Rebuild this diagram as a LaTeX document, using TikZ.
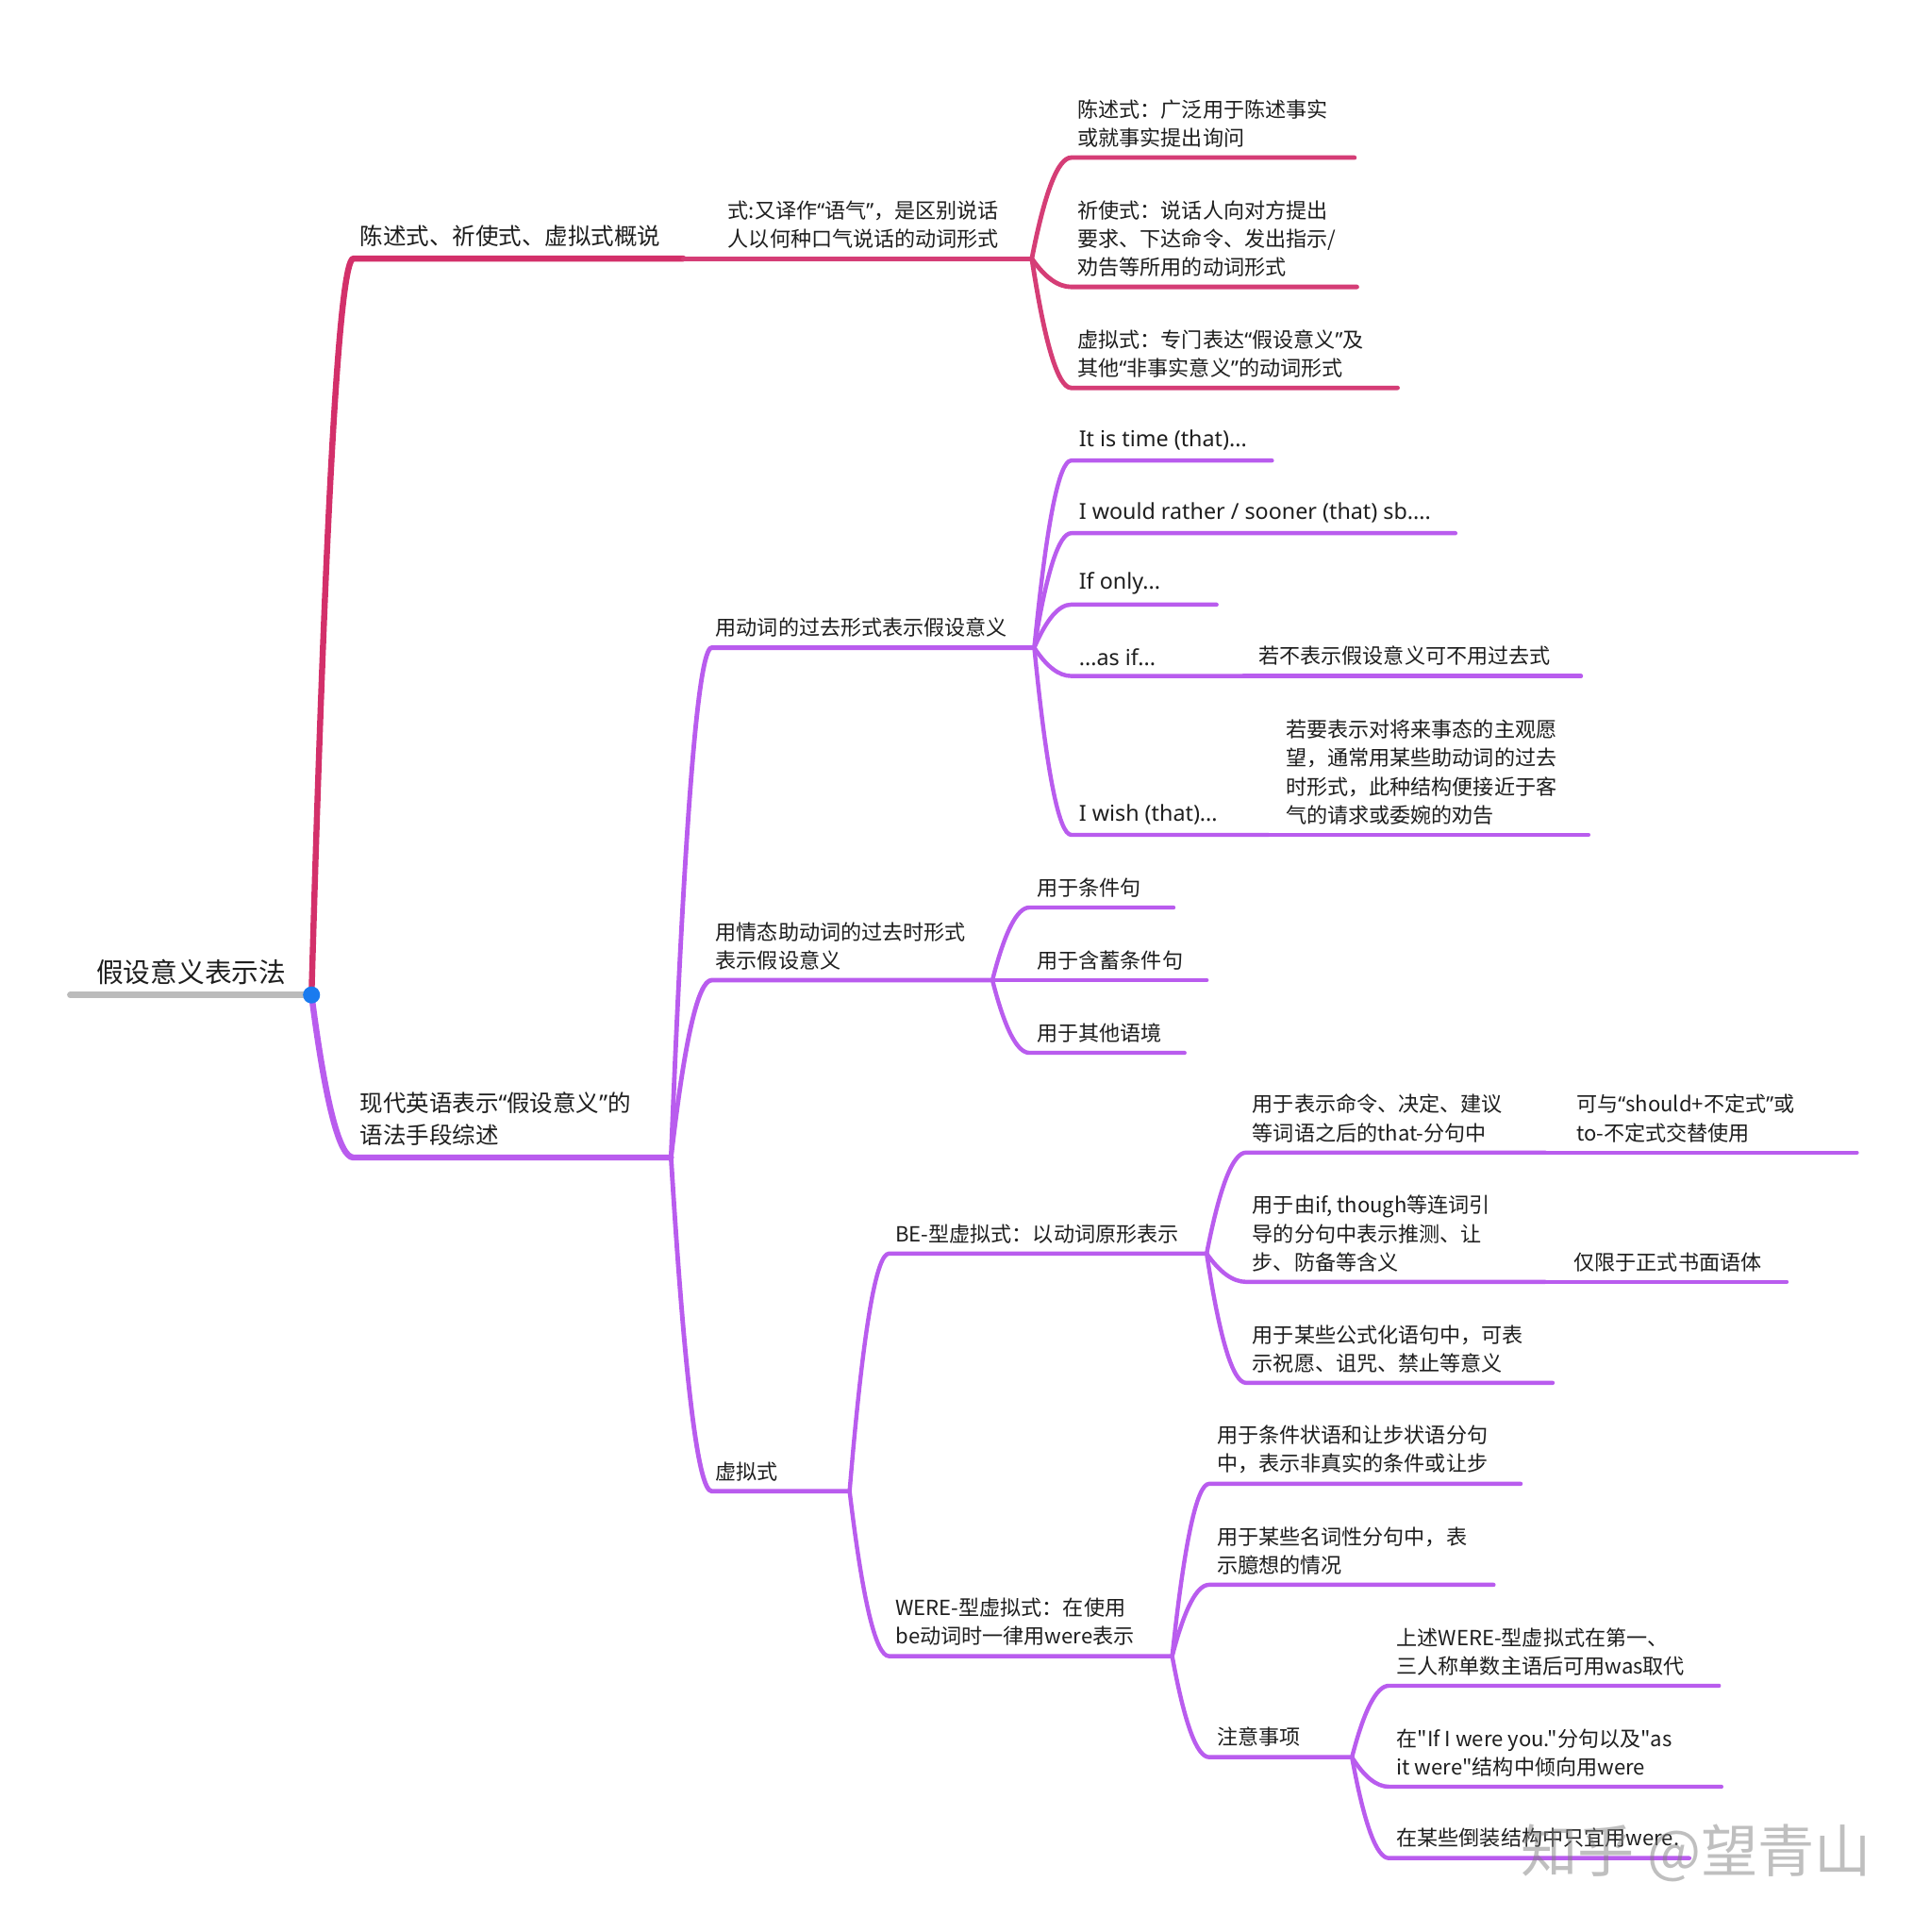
\documentclass[tikz,border=0pt]{standalone}
\usepackage{fontspec}
\setmainfont{Noto Sans CJK SC}[Ligatures=TeXOff]
\newfontfamily\qf{Noto Sans}[Ligatures=TeXOff]
\newfontfamily\latf{Noto Sans}[Ligatures=TeXOff]
\usetikzlibrary{calc}
\definecolor{crimA}{HTML}{D3306A}
\definecolor{crimB}{HTML}{D53D76}
\definecolor{purp}{HTML}{B95CEE}
\definecolor{rootgray}{HTML}{BBBBBB}
\definecolor{dotblue}{HTML}{1A7BEF}
\definecolor{txt}{HTML}{1E1E1E}
\newcommand{\myfs}[2]{\fontsize{#1}{#2}\selectfont}
\newcommand{\oqt}{{\qf “}}
\newcommand{\cqt}{{\qf ”}}
\newcommand{\conn}[4][]{\draw[#1] let \p1=(#2), \p2=(#3) in (\p1) .. controls ({\x1+(\x2-\x1)/3},{\y1+2*(\y2-\y1)/3}) and ({\x2-(\x2-\x1)/3},{\y2}) .. (\p2) -- (#4);}
\tikzset{
  lab/.style={anchor=south west, inner sep=0pt, align=left, text=txt, font=\myfs{11}{15}},
  latlab/.style={lab, font=\latf\myfs{11.6}{15}},
  lablone/.style={lab, font=\myfs{12.2}{17}},
  labroot/.style={lab, font=\myfs{14.3}{18}},
  lnbase/.style={line cap=round, line join=round},
  rA/.style={lnbase, draw=crimA, line width=3.2pt},
  rB/.style={lnbase, draw=crimB, line width=2.4pt},
  pA/.style={lnbase, draw=purp, line width=3.2pt},
  pB/.style={lnbase, draw=purp, line width=2.4pt},
  pC/.style={lnbase, draw=purp, line width=2.2pt},
  wm/.style={anchor=west, inner sep=0pt, text=gray, opacity=0.5, font=\myfs{30}{32}}
}
\begin{document}
\begin{tikzpicture}[x=0.65pt,y=-0.65pt]
\useasboundingbox[fill=white] (0,0) rectangle (1567,1569);
% ---------- coordinates ----------
\coordinate (R-s) at (57,808);   \coordinate (R-e) at (253,808);
\coordinate (A-s) at (287,210);  \coordinate (A-e) at (555,210);
\coordinate (A1-s) at (555,210); \coordinate (A1-e) at (838,210);
\coordinate (A11-s) at (870,128); \coordinate (A11-e) at (1100,128);
\coordinate (A12-s) at (870,233); \coordinate (A12-e) at (1102,233);
\coordinate (A13-s) at (870,315); \coordinate (A13-e) at (1135,315);
\coordinate (B-s) at (287,940);  \coordinate (B-e) at (545,940);
\coordinate (B1-s) at (578,526); \coordinate (B1-e) at (840,526);
\coordinate (B11-s) at (870,374); \coordinate (B11-e) at (1033,374);
\coordinate (B12-s) at (870,433); \coordinate (B12-e) at (1182,433);
\coordinate (B13-s) at (870,491); \coordinate (B13-e) at (988,491);
\coordinate (B14-s) at (870,549); \coordinate (B14-e) at (1010,549);
\coordinate (B141-e) at (1284,549);
\coordinate (B15-s) at (870,678); \coordinate (B15-e) at (1030,678);
\coordinate (B151-e) at (1290,678);
\coordinate (B2-s) at (578,796); \coordinate (B2-e) at (806,796);
\coordinate (B21-s) at (836,737); \coordinate (B21-e) at (953,737);
\coordinate (B22-s) at (836,796); \coordinate (B22-e) at (980,796);
\coordinate (B23-s) at (836,855); \coordinate (B23-e) at (962,855);
\coordinate (B3-s) at (578,1211); \coordinate (B3-e) at (690,1211);
\coordinate (B31-s) at (722,1018); \coordinate (B31-e) at (980,1018);
\coordinate (B311-s) at (1012,936); \coordinate (B311-e) at (1255,936);
\coordinate (B3111-e) at (1508,936);
\coordinate (B312-s) at (1012,1041); \coordinate (B312-e) at (1255,1041);
\coordinate (B3121-e) at (1451,1041);
\coordinate (B313-s) at (1012,1123); \coordinate (B313-e) at (1261,1123);
\coordinate (B32-s) at (722,1345); \coordinate (B32-e) at (952,1345);
\coordinate (B321-s) at (982,1205); \coordinate (B321-e) at (1235,1205);
\coordinate (B322-s) at (982,1287); \coordinate (B322-e) at (1213,1287);
\coordinate (B323-s) at (982,1427); \coordinate (B323-e) at (1098,1427);
\coordinate (B3231-s) at (1128,1369); \coordinate (B3231-e) at (1396,1369);
\coordinate (B3232-s) at (1128,1451); \coordinate (B3232-e) at (1398,1451);
\coordinate (B3233-s) at (1128,1509); \coordinate (B3233-e) at (1372,1509);
% ---------- connectors ----------
\draw[lnbase, draw=rootgray, line width=3.3pt] (R-s) -- (R-e);
% crimson branch
\conn[rA]{R-e}{A-s}{A-e}
\draw[rB] (A1-s) -- (A1-e);
\conn[rB]{A1-e}{A11-s}{A11-e}
\conn[rB]{A1-e}{A12-s}{A12-e}
\conn[rB]{A1-e}{A13-s}{A13-e}
% purple branch
\conn[pA]{R-e}{B-s}{B-e}
\conn[pB]{B-e}{B1-s}{B1-e}
\conn[pC]{B1-e}{B11-s}{B11-e}
\conn[pC]{B1-e}{B12-s}{B12-e}
\conn[pC]{B1-e}{B13-s}{B13-e}
\conn[pC]{B1-e}{B14-s}{B14-e}
\draw[pC] (B14-e) -- (B141-e);
\conn[pC]{B1-e}{B15-s}{B15-e}
\draw[pC] (B15-e) -- (B151-e);
\conn[pB]{B-e}{B2-s}{B2-e}
\conn[pC]{B2-e}{B21-s}{B21-e}
\conn[pC]{B2-e}{B22-s}{B22-e}
\conn[pC]{B2-e}{B23-s}{B23-e}
\conn[pB]{B-e}{B3-s}{B3-e}
\conn[pC]{B3-e}{B31-s}{B31-e}
\conn[pC]{B31-e}{B311-s}{B311-e}
\draw[pC] (B311-e) -- (B3111-e);
\conn[pC]{B31-e}{B312-s}{B312-e}
\draw[pC] (B312-e) -- (B3121-e);
\conn[pC]{B31-e}{B313-s}{B313-e}
\conn[pC]{B3-e}{B32-s}{B32-e}
\conn[pC]{B32-e}{B321-s}{B321-e}
\conn[pC]{B32-e}{B322-s}{B322-e}
\conn[pC]{B32-e}{B323-s}{B323-e}
\conn[pC]{B323-e}{B3231-s}{B3231-e}
\conn[pC]{B323-e}{B3232-s}{B3232-e}
\conn[pC]{B323-e}{B3233-s}{B3233-e}
\node[circle, fill=dotblue, inner sep=0pt, minimum size=9pt] (dot) at (R-e) {};
% ---------- texts ----------
\node[labroot] (R) at ([shift={(21,-8)}]R-s) {假设意义表示法};
\node[lablone] (A) at ([shift={(5,-9)}]A-s) {陈述式、祈使式、虚拟式概说};
\node[lab] (A1) at ([shift={(36,-8)}]A1-s) {式:又译作\oqt 语气\cqt，是区别说话\\人以何种口气说话的动词形式};
\node[lab] (A11) at ([shift={(5,-8)}]A11-s) {陈述式：广泛用于陈述事实\\或就事实提出询问};
\node[lab] (A12) at ([shift={(5,-8)}]A12-s) {祈使式：说话人向对方提出\\要求、下达命令、发出指示/\\劝告等所用的动词形式};
\node[lab] (A13) at ([shift={(5,-8)}]A13-s) {虚拟式：专门表达\oqt 假设意义\cqt 及\\其他\oqt 非事实意义\cqt 的动词形式};
\node[lablone] (B) at ([shift={(5,-9)}]B-s) {现代英语表示\oqt 假设意义\cqt 的\\语法手段综述};
\node[lab] (B1) at ([shift={(3,-8)}]B1-s) {用动词的过去形式表示假设意义};
\node[latlab] (B11) at ([shift={(6,-8)}]B11-s) {It is time (that)...};
\node[latlab] (B12) at ([shift={(6,-8)}]B12-s) {I would rather / sooner (that) sb....};
\node[latlab] (B13) at ([shift={(6,-8)}]B13-s) {If only...};
\node[latlab] (B14) at ([shift={(6,-8)}]B14-s) {...as if...};
\node[lab] (B141) at ([shift={(12,-8)}]B14-e) {若不表示假设意义可不用过去式};
\node[latlab] (B15) at ([shift={(6,-8)}]B15-s) {I wish (that)...};
\node[lab] (B151) at ([shift={(14,-8)}]B15-e) {若要表示对将来事态的主观愿\\望，通常用某些助动词的过去\\时形式，此种结构便接近于客\\气的请求或委婉的劝告};
\node[lab] (B2) at ([shift={(3,-8)}]B2-s) {用情态助动词的过去时形式\\表示假设意义};
\node[lab] (B21) at ([shift={(6,-8)}]B21-s) {用于条件句};
\node[lab] (B22) at ([shift={(6,-8)}]B22-s) {用于含蓄条件句};
\node[lab] (B23) at ([shift={(6,-8)}]B23-s) {用于其他语境};
\node[lab] (B3) at ([shift={(3,-8)}]B3-s) {虚拟式};
\node[lab] (B31) at ([shift={(5,-8)}]B31-s) {BE-型虚拟式：以动词原形表示};
\node[lab] (B311) at ([shift={(5,-8)}]B311-s) {用于表示命令、决定、建议\\等词语之后的that-分句中};
\node[lab] (B3111) at ([shift={(25,-8)}]B311-e) {可与\oqt should+不定式\cqt 或\\to-不定式交替使用};
\node[lab] (B312) at ([shift={(5,-8)}]B312-s) {用于由if, though等连词引\\导的分句中表示推测、让\\步、防备等含义};
\node[lab] (B3121) at ([shift={(23,-8)}]B312-e) {仅限于正式书面语体};
\node[lab] (B313) at ([shift={(5,-8)}]B313-s) {用于某些公式化语句中，可表\\示祝愿、诅咒、禁止等意义};
\node[lab] (B32) at ([shift={(5,-8)}]B32-s) {WERE-型虚拟式：在使用\\be动词时一律用were表示};
\node[lab] (B321) at ([shift={(6,-8)}]B321-s) {用于条件状语和让步状语分句\\中，表示非真实的条件或让步};
\node[lab] (B322) at ([shift={(6,-8)}]B322-s) {用于某些名词性分句中，表\\示臆想的情况};
\node[lab] (B323) at ([shift={(6,-8)}]B323-s) {注意事项};
\node[lab] (B3231) at ([shift={(6,-8)}]B3231-s) {上述WERE-型虚拟式在第一、\\三人称单数主语后可用was取代};
\node[lab] (B3232) at ([shift={(6,-8)}]B3232-s) {在"If I were you."分句以及"as\\it were"结构中倾向用were};
\node[lab] (B3233) at ([shift={(6,-8)}]B3233-s) {在某些倒装结构中只宜用were.};
% watermark
\node[wm] (W) at (1235,1505) {知乎 @望青山};
\end{tikzpicture}
\end{document}
